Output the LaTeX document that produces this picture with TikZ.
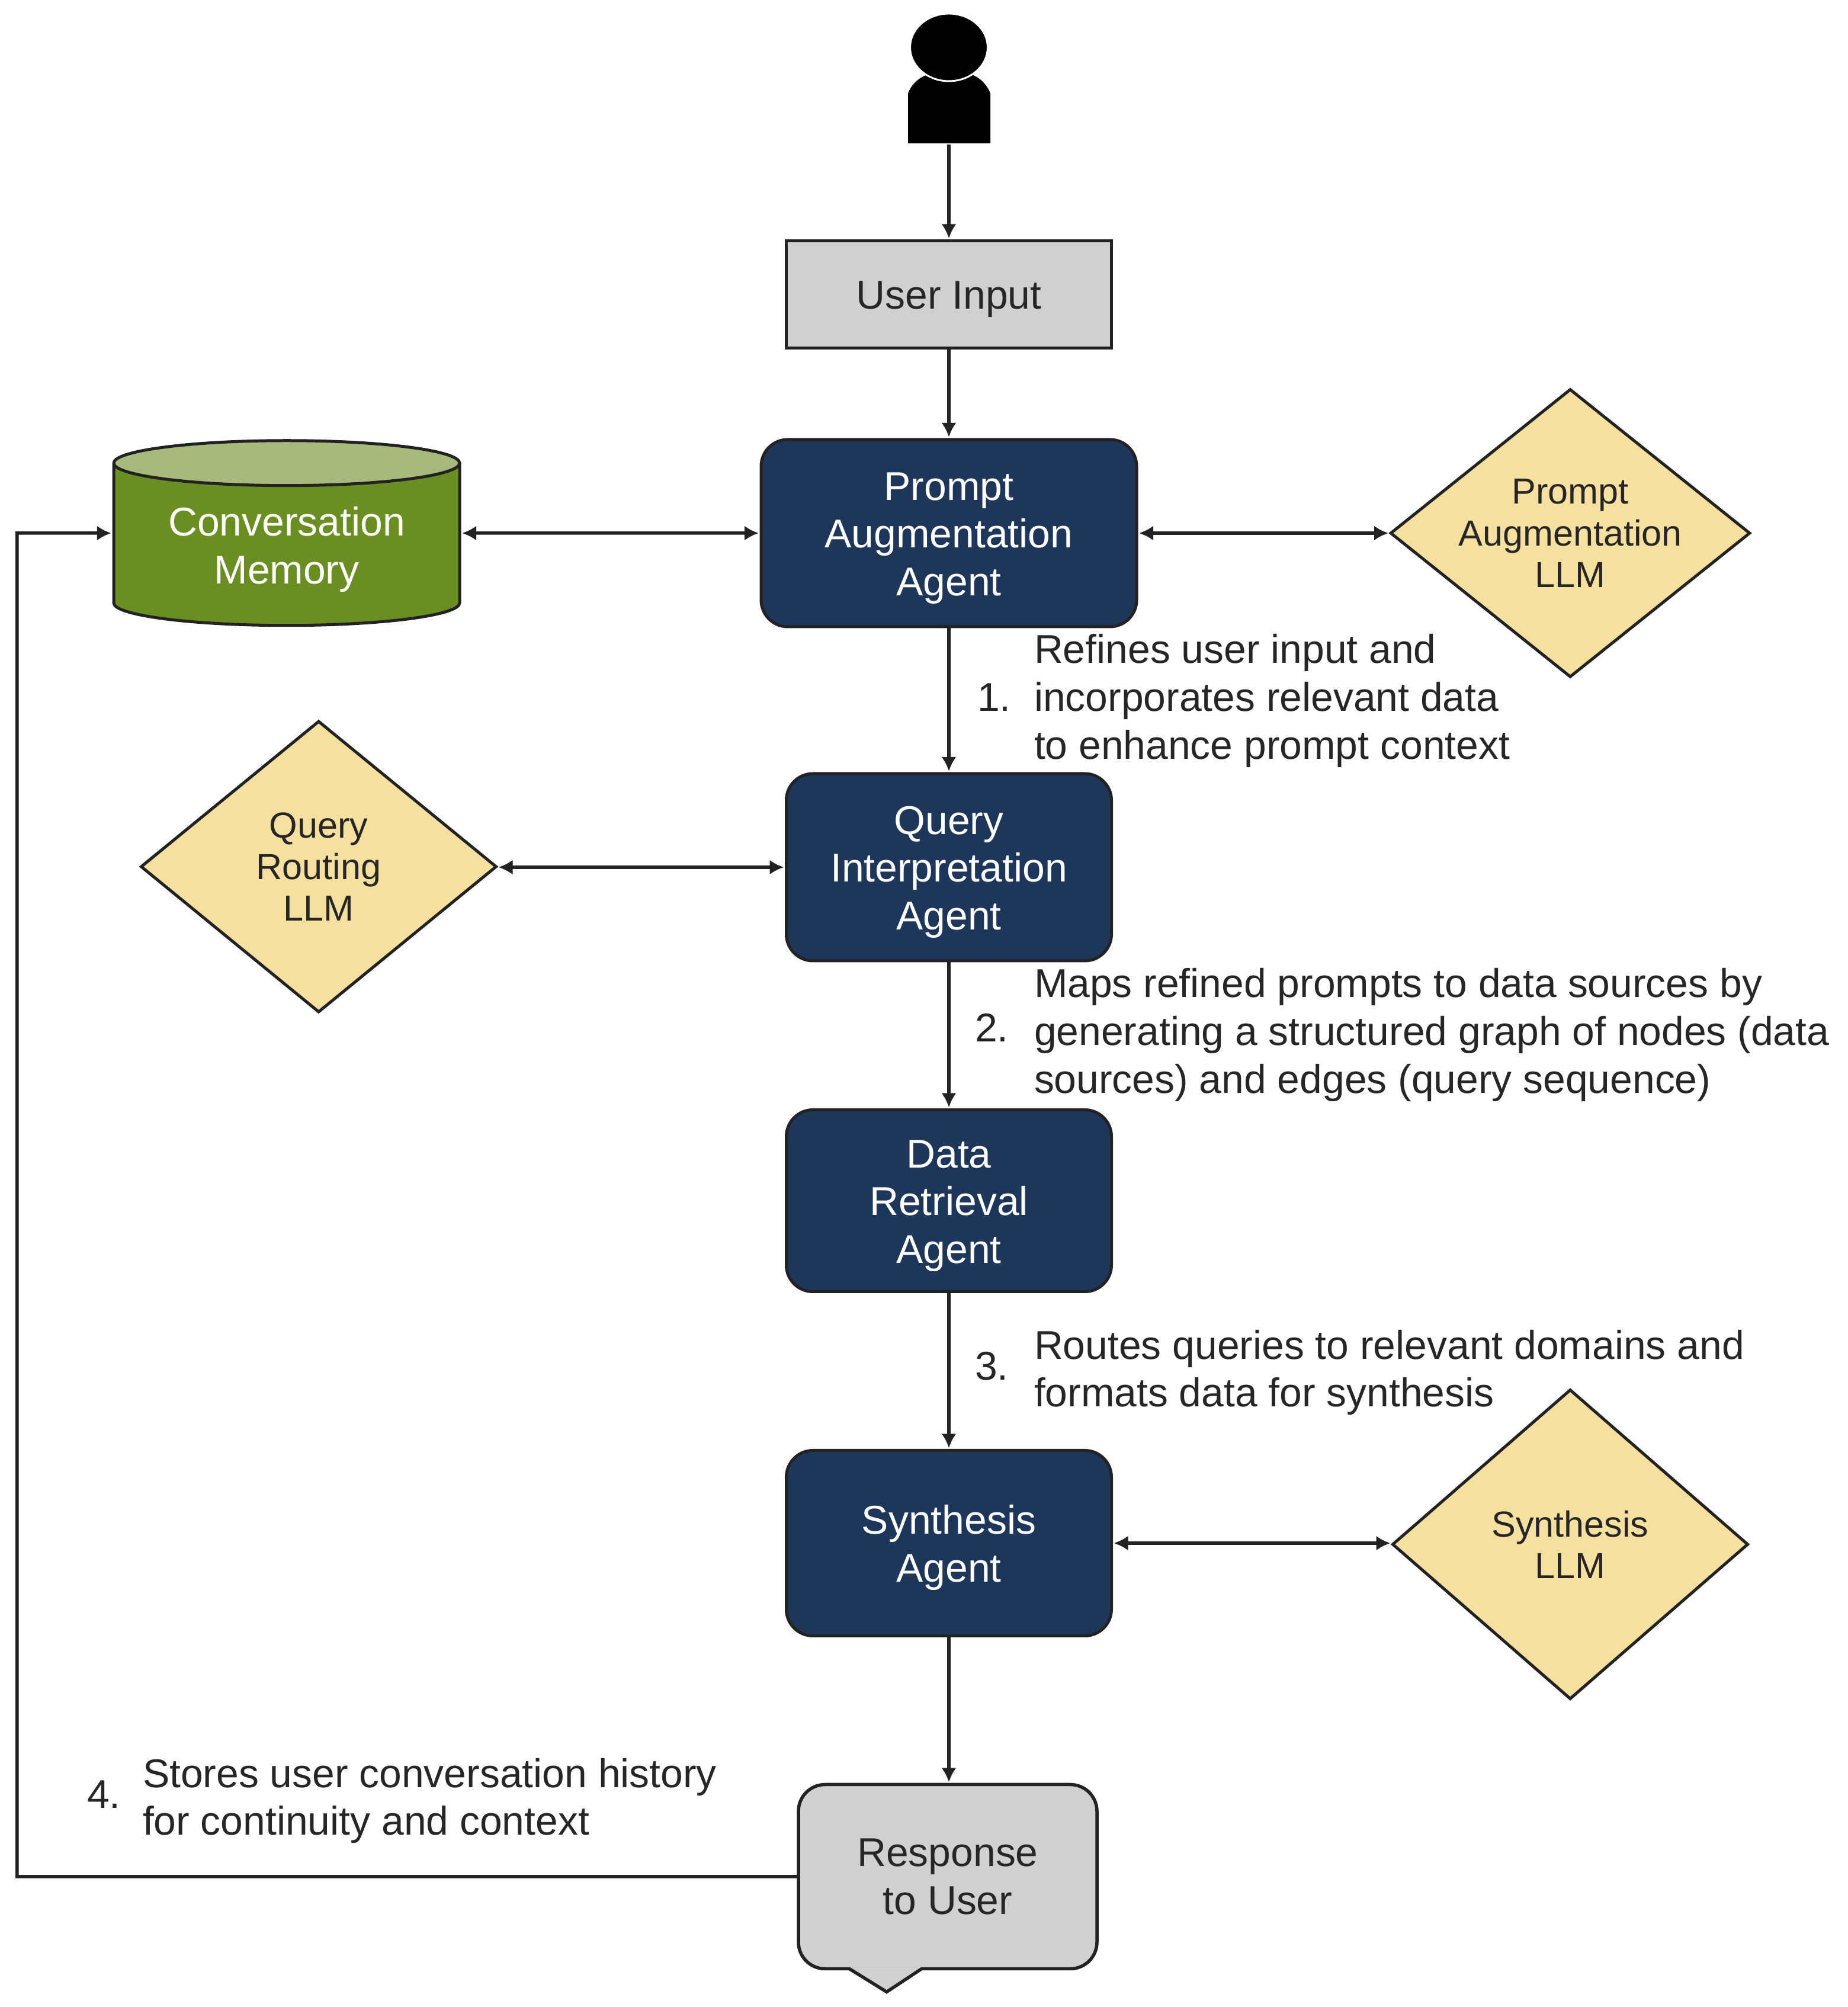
\documentclass[tikz,border=0pt]{standalone}
\usepackage{fontspec}
\setmainfont{Liberation Sans}
\usetikzlibrary{arrows.meta,shapes.geometric}

\definecolor{agentblue}{HTML}{1D3659}
\definecolor{boxgray}{HTML}{D0D0D0}
\definecolor{llmyellow}{HTML}{F6E0A0}
\definecolor{memgreen}{HTML}{6B8E23}
\definecolor{memtop}{HTML}{A8BA7B}
\definecolor{linegray}{HTML}{222222}

\newcommand{\toppad}{\rule{0pt}{.64cm}}

\tikzset{
  conn/.style={line width=.055cm,draw=linegray},
  flow/.style={conn,-{Latex[length=.24cm,width=.25cm]},shorten >=.04cm},
  both/.style={conn,{Latex[length=.24cm,width=.25cm]}-{Latex[length=.24cm,width=.25cm]},shorten >=.04cm,shorten <=.04cm},
  bigtext/.style={font=\fontsize{19.3}{23}\selectfont,align=center},
  agent/.style={draw=linegray,line width=.05cm,fill=agentblue,text=white,rounded corners=.45cm,
    minimum height=3.16cm,inner sep=0pt,outer sep=0pt,bigtext},
  graybox/.style={draw=linegray,line width=.055cm,fill=boxgray,text=black!85,inner sep=0pt,outer sep=0pt,bigtext},
  llm/.style={diamond,draw=linegray,line width=.05cm,fill=llmyellow,text=black!85,inner sep=0pt,outer sep=0pt,
    minimum width=5.99cm,font=\fontsize{17.4}{20}\selectfont,align=center},
  note/.style={anchor=west,inner sep=0pt,outer sep=0pt,text=black!85,font=\fontsize{19.3}{23}\selectfont,align=left},
}

\begin{document}
\begin{tikzpicture}
\useasboundingbox (0,0) rectangle (31.2,33.88);

% person
\fill[black] (15.33,31.46) -- (15.33,32.3) .. controls (15.4,32.5) and (15.6,32.66) .. (15.9,32.66)
  -- (16.2,32.66) .. controls (16.45,32.66) and (16.65,32.5) .. (16.72,32.3) -- (16.72,31.46) -- cycle;
\node[ellipse,fill=black,draw=white,line width=.03cm,minimum width=1.31cm,minimum height=1.14cm,inner sep=0pt] (head) at (16.02,33.08) {};
\coordinate (foot) at (16.02,31.44);

\node[graybox,minimum width=5.49cm,minimum height=1.81cm] (input) at (16.02,28.91) {\toppad User Input};

\node[agent,minimum width=6.34cm] (prompt) at (16.02,24.88) {\toppad Prompt\\Augmentation\\Agent};
\node[agent,minimum width=5.49cm] (query) at (16.02,19.24) {\toppad Query\\Interpretation\\Agent};
\node[agent,minimum width=5.49cm,minimum height=3.07cm] (data) at (16.02,13.61) {\toppad Data\\Retrieval\\Agent};
\node[agent,minimum width=5.49cm,minimum height=3.13cm] (synth) at (16.02,7.83) {\toppad Synthesis\\Agent};

\node[graybox,rounded corners=.45cm,minimum width=5.04cm,minimum height=3.11cm] (resp) at (16,2.20) {Response\\to User};
\fill[boxgray] ([xshift=-1.66cm,yshift=.03cm]resp.south) -- ([xshift=-1.03cm,yshift=-.39cm]resp.south) -- ([xshift=-.44cm,yshift=.03cm]resp.south) -- cycle;
\draw[conn] ([xshift=-1.66cm]resp.south) -- ([xshift=-1.03cm,yshift=-.39cm]resp.south) -- ([xshift=-.44cm]resp.south);

\node[cylinder,shape border rotate=90,aspect=.19,draw=linegray,line width=.05cm,
  cylinder uses custom fill,cylinder body fill=memgreen,cylinder end fill=memtop,
  minimum width=5.84cm,minimum height=3.12cm,inner sep=0pt,outer sep=0pt,text=white,bigtext] (memory) at (4.84,24.68) {\toppad Conversation\\Memory};

\node[llm,aspect=1.25] (promptllm) at (26.51,24.88) {Prompt\\Augmentation\\LLM};
\node[llm,aspect=1.225,minimum height=4.9cm] (routellm) at (5.38,19.25) {Query\\Routing\\LLM};
\node[llm,aspect=1.15,minimum height=5.21cm] (synthllm) at (26.51,7.81) {Synthesis\\LLM};

\node[note] (n1) at (16.50,22.11) {1.};
\node[note] (t1) at (17.46,22.05) {Refines user input and\\incorporates relevant data\\to enhance prompt context};
\node[note] (n2) at (16.46,16.53) {2.};
\node[note] (t2) at (17.46,16.41) {Maps refined prompts to data sources by\\generating a structured graph of nodes (data\\sources) and edges (query sequence)};
\node[note] (n3) at (16.46,10.82) {3.};
\node[note] (t3) at (17.46,10.71) {Routes queries to relevant domains and\\formats data for synthesis};
\node[note] (n4) at (1.47,3.59) {4.};
\node[note] (t4) at (2.41,3.48) {Stores user conversation history\\for continuity and context};

\draw[flow] (foot) -- (input.north);
\draw[flow] (input) -- (prompt);
\draw[flow] (prompt) -- (query);
\draw[flow] (query) -- (data);
\draw[flow] (data) -- (synth);
\draw[flow] (synth) -- (synth |- resp.north);

\draw[both] ([yshift=.2cm]memory.east) -- (prompt.west);
\draw[both] (prompt.east) -- (promptllm.west);
\draw[both] (routellm.east |- query.west) -- (query.west);
\draw[both] (synth.east) -- (synth.east -| synthllm.west);

% back to the memory
\coordinate (rail) at (.29,24.88);
\draw[flow] (resp.west) -| (rail) -- ([yshift=.2cm]memory.west);
\end{tikzpicture}
\end{document}
